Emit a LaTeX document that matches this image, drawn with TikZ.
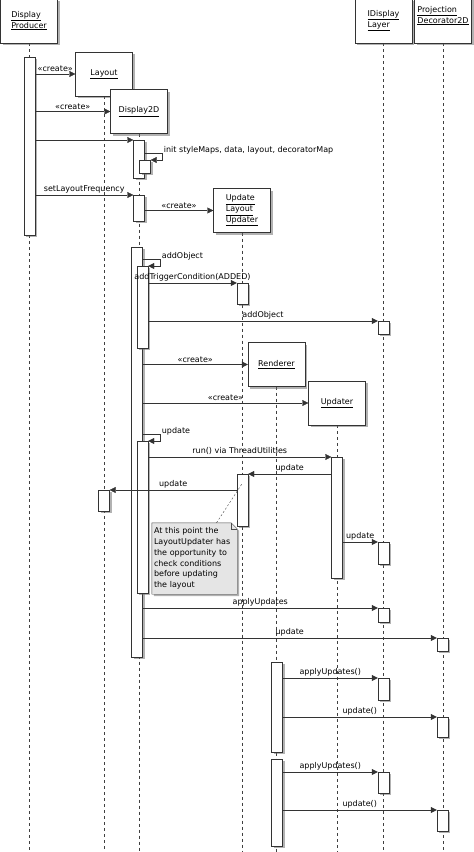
\documentclass[tikz,border=0pt]{standalone}
\usepackage{fontspec}
\setmainfont{DejaVu Sans}
\usetikzlibrary{arrows.meta,shadows,backgrounds}

\begin{document}
\begin{tikzpicture}[x=1pt,y=-1pt,
	font=\fontsize{8}{10.8}\selectfont,
	every node/.style={inner sep=0pt},
	shade/.style={drop shadow={shadow xshift=2pt,shadow yshift=-2pt,fill=black!60,opacity=.5}},
	obj/.style={draw=black!80,fill=white,minimum width=57pt,minimum height=44pt,align=left,shade},
	bar/.style={draw=black!80,fill=white,minimum width=11pt,anchor=north,shade},
	life/.style={draw=black!75,dash pattern=on 3pt off 3pt},
	msg/.style={draw=black!80,-{Triangle[length=6pt,width=6pt]}},
	lbl/.style={above,inner sep=2pt},
	notebox/.style={draw=black!70,fill=black!10}]

  \useasboundingbox (0,0) rectangle (474,852);
  \coordinate (bottom) at (0,852);

  \node [obj,anchor=south] (dp) at (29,43) {\underline{Display}\\\underline{Producer}};
  \node [obj] (lay) at (104,74) {\underline{Layout}};
  \node [obj] (d2d) at (139,111.5) {\underline{Display2D}};
  \node [obj] (ulu) at (242,210.5) {\underline{Update}\\\underline{Layout}\\\underline{Updater}};
  \node [obj] (ren) at (276.5,364.5) {\underline{Renderer}};
  \node [obj] (upd) at (337,403) {\underline{Updater}};
  \node [obj,anchor=south] (idl) at (383.5,43) {\underline{IDisplay}\\\underline{Layer}};
  \node [obj,anchor=south,minimum height=54pt] (pd) at (443,43) {\underline{Projection}\\\underline{Decorator2D}};

  \foreach \n/\x/\ya/\yb in {dpb/29.5/57/235, d2db1/139/140/178, d2db2/145/160/173,
      d2db3/139/195/221, d2db4/137/247/657, d2db5/142.5/266/348, ulub1/242.5/283/304,
      idlb1/383.5/321/334, d2db6/142.5/441/593, updb1/337/457/578, ulub2/242.5/474/526,
      layb1/104/490/511, idlb2/383.5/542/564, idlb3/383.5/608/622, pdb1/442.5/638/651,
      renb1/277/662/752, idlb4/383.5/678/700, pdb2/442.5/717/737, renb2/277/759/846,
      idlb5/383.5/772/793, pdb3/442.5/810/831}
    \node [bar,minimum height=(\yb-\ya)*1pt] (\n) at (\x,\ya) {};

  \node [text width=81pt,inner sep=2pt,minimum height=71pt,align=left] (note) at (194.5,558.5)
    {At this point the\\LayoutUpdater has\\the opportunity to\\check conditions\\before updating\\the layout};

  \begin{scope}[on background layer]
  \foreach \o in {dp,lay,d2d,ulu,ren,upd,idl,pd}
    \draw [life] (\o.south) -- (\o.south |- bottom);
  \filldraw [notebox,shade] (note.south west) -- (note.north west) -- ([xshift=-6pt]note.north east)
    -- ([yshift=-6pt]note.north east) -- (note.south east) -- cycle;
  \draw [notebox,fill=none] ([xshift=-6pt]note.north east) |- ([yshift=-6pt]note.north east);
  \end{scope}

  \draw [msg] (dpb.east |- lay.west) -- node [lbl] {«create»} (lay.west);
  \draw [msg] (dpb.east |- d2d.west) -- node [lbl] {«create»} (d2d.west);
  \draw [msg] (dpb.east |- d2db1.north) -- (d2db1.north west);
  \draw [msg] (d2db1.east |- d2db2.north) ++(0,-7) -- ++(17,0)
    node [right,yshift=3pt,inner sep=2pt] {init styleMaps, data, layout, decoratorMap} |- (d2db2.north east);
  \draw [msg] (dpb.east |- d2db3.north) -- node [lbl] {setLayoutFrequency} (d2db3.north west);
  \draw [msg] (d2db3.east |- ulu.west) -- node [lbl] {«create»} (ulu.west);

  \draw [msg] (d2db4.east |- d2db5.north) ++(0,-7) -- ++(17,0)
    node [right,yshift=3pt,inner sep=2pt] {addObject} |- (d2db5.north east);
  \draw [msg] (d2db5.east |- ulub1.north) -- node [lbl] {addTriggerCondition(ADDED)} (ulub1.north west);
  \draw [msg] (d2db5.east |- idlb1.north) -- node [lbl] {addObject} (idlb1.north west);
  \draw [msg] (d2db4.east |- ren.west) -- node [lbl] {«create»} (ren.west);
  \draw [msg] (d2db4.east |- upd.west) -- node [lbl] {«create»} (upd.west);

  \draw [msg] (d2db4.east |- d2db6.north) ++(0,-7) -- ++(17,0)
    node [right,yshift=3pt,inner sep=2pt] {update} |- (d2db6.north east);
  \draw [msg] (d2db6.east |- updb1.north) -- node [lbl] {run() via ThreadUtilities} (updb1.north west);
  \draw [msg] (updb1.west |- ulub2.north) -- node [lbl] {update} (ulub2.north east);
  \draw [msg] (ulub2.west |- layb1.north) -- node [lbl] {update} (layb1.north east);
  \draw [life,dash pattern=on 2pt off 2pt] ([xshift=22pt]note.north) -- ([yshift=-9pt]ulub2.north);
  \draw [msg] (updb1.east |- idlb2.north) -- node [lbl] {update} (idlb2.north west);
  \draw [msg] (d2db4.east |- idlb3.north) -- node [lbl] {applyUpdates} (idlb3.north west);
  \draw [msg] (d2db4.east |- pdb1.north) -- node [lbl] {update} (pdb1.north west);

  \draw [msg] (renb1.east |- idlb4.north) -- node [lbl] {applyUpdates()} (idlb4.north west);
  \draw [msg] (renb1.east |- pdb2.north) -- node [lbl] {update()} (pdb2.north west);
  \draw [msg] (renb2.east |- idlb5.north) -- node [lbl] {applyUpdates()} (idlb5.north west);
  \draw [msg] (renb2.east |- pdb3.north) -- node [lbl] {update()} (pdb3.north west);

\end{tikzpicture}
\end{document}
